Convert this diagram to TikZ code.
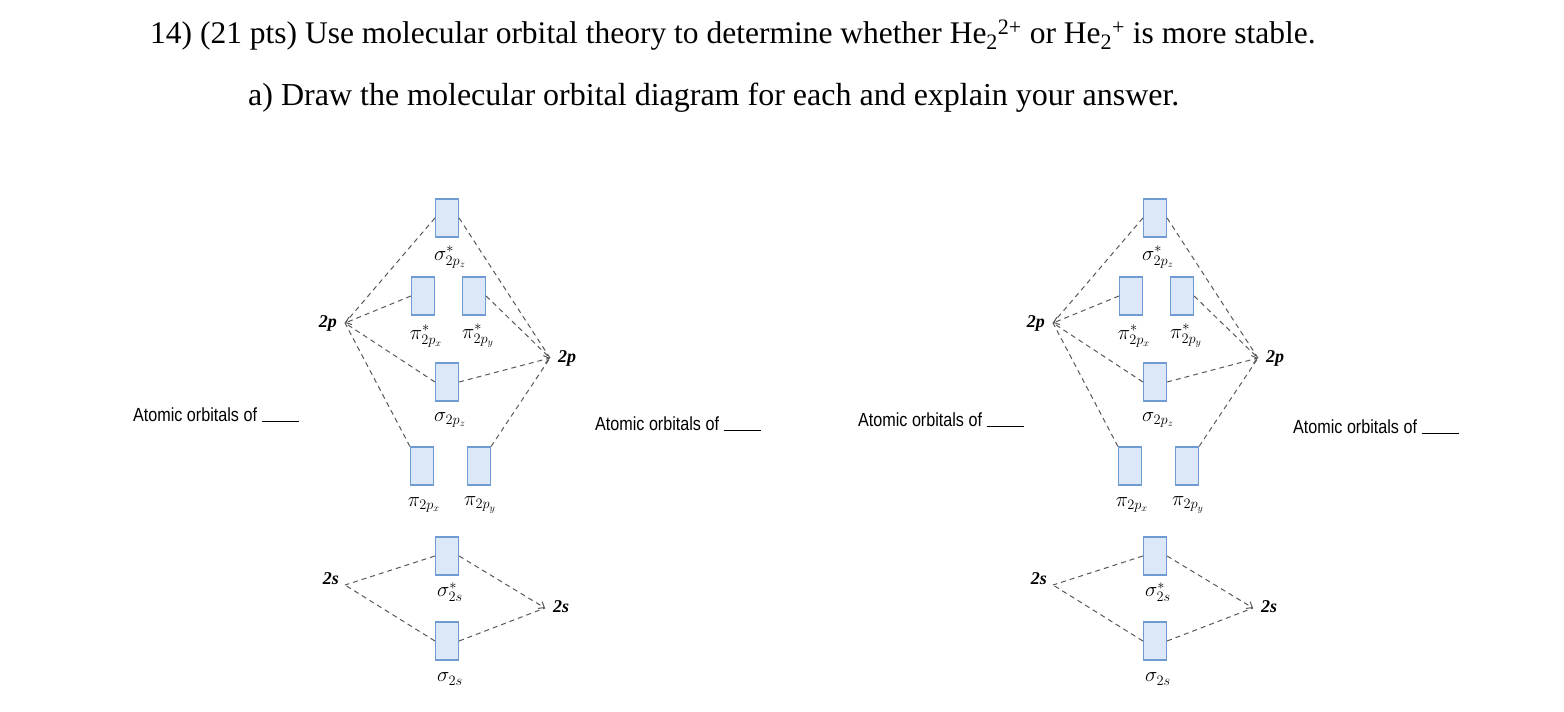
\documentclass[tikz,border=0pt]{standalone}
\usepackage{fontspec}
\setmainfont{Liberation Serif}
\newfontfamily\lsans{Liberation Sans}
\usetikzlibrary{arrows.meta}
\definecolor{bfill}{RGB}{220,232,247}
\definecolor{bdraw}{RGB}{110,155,210}
\tikzset{
 orb/.style={draw=bdraw, fill=bfill, line width=1.2pt, minimum width=23pt, minimum height=38pt, inner sep=0pt},
 con/.style={draw=black!65, line width=1pt, dash pattern=on 5pt off 4pt},
 arr/.style={con, -{Straight Barb[length=5pt,width=8pt]}},
 olab/.style={font=\fontsize{20}{20}\selectfont, inner sep=0pt},
 aolab/.style={font=\fontsize{18}{18}\selectfont\bfseries\itshape, inner sep=1pt},
 atl/.style={font=\lsans\fontsize{19}{19}\selectfont, anchor=west, inner sep=0pt, xscale=0.85},
}
\newcommand\modiag[2]{%
\begin{scope}[shift={(#2,0)}]
 \node[orb] (#1sa) at (447,218) {};
 \node[orb] (#1pax) at (423,296) {};
 \node[orb] (#1pay) at (474,296) {};
 \node[orb] (#1sb) at (447,382) {};
 \node[orb] (#1pbx) at (422,466) {};
 \node[orb] (#1pby) at (479,466) {};
 \node[orb] (#1ssa) at (447,556) {};
 \node[orb] (#1ssb) at (447,641) {};
 \node[olab] at (450,257) {$\sigma^*_{2p_z}$};
 \node[olab] at (426,336) {$\pi^*_{2p_x}$};
 \node[olab] at (478,336) {$\pi^*_{2p_y}$};
 \node[olab] at (450,420) {$\sigma_{2p_z}$};
 \node[olab] at (424,505) {$\pi_{2p_x}$};
 \node[olab] at (480,505) {$\pi_{2p_y}$};
 \node[olab] at (450,592) {$\sigma^*_{2s}$};
 \node[olab] at (450,679) {$\sigma_{2s}$};
 \coordinate (#1L) at (345,323);
 \coordinate (#1R) at (550,358);
 \coordinate (#1LS) at (345,585);
 \coordinate (#1RS) at (545,608);
 \node[aolab,anchor=east] at (338,323) {2p};
 \node[aolab,anchor=west] at (557,358) {2p};
 \node[aolab,anchor=east] at (340,579) {2s};
 \node[aolab,anchor=west] at (552,607) {2s};
 \draw[con] (#1sa.west) -- (#1L);
 \draw[arr] (#1pax.west) -- (#1L);
 \draw[con] (#1sb.west) -- (#1L);
 \draw[con] (#1pbx.north west) -- (#1L);
 \draw[con] (#1sa.east) -- (#1R);
 \draw[con] (#1pay.east) -- (#1R);
 \draw[arr] (#1sb.east) -- (#1R);
 \draw[con] (#1pby.north east) -- (#1R);
 \draw[con] (#1ssa.west) -- (#1LS);
 \draw[con] (#1ssb.west) -- (#1LS);
 \draw[arr] (#1ssa.east) -- (#1RS);
 \draw[con] (#1ssb.east) -- (#1RS);
\end{scope}}
\begin{document}
\begin{tikzpicture}[x=1pt,y=-1pt]
\useasboundingbox[fill=white] (0,0) rectangle (1564,712);
\node[anchor=west,font=\fontsize{31.5}{32}\selectfont,inner sep=0pt] (t1) at (150,35) {14) (21 pts) Use molecular orbital theory to determine whether He\textsubscript{2}\textsuperscript{2+} or He\textsubscript{2}\textsuperscript{+} is more stable.};
\node[anchor=west,font=\fontsize{32}{32}\selectfont,inner sep=0pt] (t2) at (248,98) {a) Draw the molecular orbital diagram for each and explain your answer.};
\modiag{A}{0}
\modiag{B}{708}
\node[atl] (a1) at (133,415) {Atomic orbitals of \rule{44pt}{1pt}};
\node[atl] (a2) at (595,424) {Atomic orbitals of \rule{44pt}{1pt}};
\node[atl] (a3) at (858,420) {Atomic orbitals of \rule{44pt}{1pt}};
\node[atl] (a4) at (1293,427) {Atomic orbitals of \rule{44pt}{1pt}};
\end{tikzpicture}
\end{document}
